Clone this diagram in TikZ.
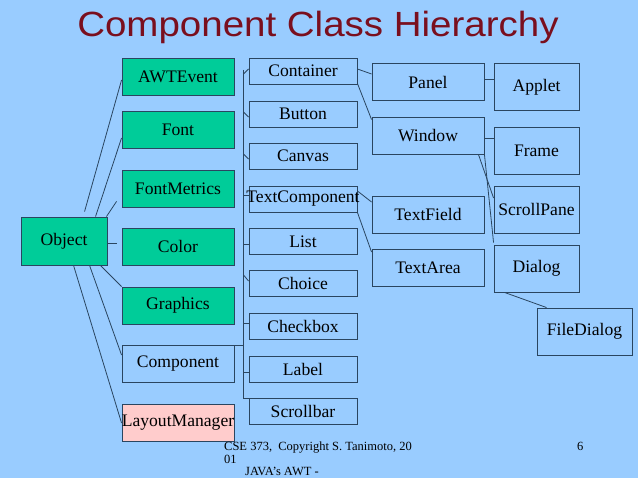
\documentclass[tikz,border=0pt]{standalone}
\usepackage{fontspec}
\setmainfont{Liberation Serif}
\newfontfamily\titlefont{Liberation Sans}
\usetikzlibrary{calc}
\definecolor{bg}{HTML}{99CCFF}
\definecolor{grn}{HTML}{00CC99}
\definecolor{pnk}{HTML}{FFCCCC}
\definecolor{edge}{HTML}{2A4560}
\definecolor{ttl}{HTML}{7A0F1E}
\newcommand\bt[1]{\makebox[0pt]{\raisebox{-1.5pt}{#1}}}
\begin{document}
\begin{tikzpicture}[x=1pt,y=-1pt,
  box/.style={draw=edge, line width=0.9pt, rectangle, inner sep=0pt, text=black,
    font=\fontsize{17.6}{20}\selectfont},
  gbox/.style={box, fill=grn},
  pbox/.style={box, fill=pnk},
  colA/.style={minimum width=112pt, minimum height=37pt},
  colB/.style={minimum width=108pt, minimum height=26pt},
  colC/.style={minimum width=112pt, minimum height=37pt},
  colD/.style={minimum width=85pt, minimum height=47pt},
  link/.style={draw=edge, line width=0.8pt},
  foot/.style={inner sep=0pt, anchor=base west, font=\fontsize{12.5}{14}\selectfont}]
\fill[bg] (0,0) rectangle (638,478);
\useasboundingbox (0,0) rectangle (638,478);

\node[anchor=base, inner sep=0pt, text=ttl, font=\titlefont\fontsize{35}{40}\selectfont] (title) at (318,37) {\scalebox{1.1}[1]{Component Class Hierarchy}};

% column 0
\node[gbox, minimum width=86pt, minimum height=48pt] (obj) at (64,241) {\bt{Object}};
% column A
\node[gbox, colA] (awt) at (178,76.5) {\bt{AWTEvent}};
\node[gbox, colA] (font) at (178,130) {\bt{Font}};
\node[gbox, colA] (fm) at (178,188.5) {\bt{FontMetrics}};
\node[gbox, colA] (color) at (178,246.5) {\bt{Color}};
\node[gbox, colA] (gr) at (178,305.5) {\bt{Graphics}};
\node[box, colA] (comp) at (178,364) {\bt{Component}};
\node[pbox, colA] (lm) at (178,422.5) {\bt{LayoutManager}};
% column B
\node[box, colB] (cont) at (303,71) {\bt{Container}};
\node[box, colB] (btn) at (303,114) {\bt{Button}};
\node[box, colB] (canv) at (303,156) {\bt{Canvas}};
\node[box, colB] (tc) at (303,199) {\bt{TextComponent}};
\node[box, colB] (list) at (303,241.5) {\bt{List}};
\node[box, colB] (choice) at (303,283.5) {\bt{Choice}};
\node[box, colB] (chk) at (303,326.5) {\bt{Checkbox}};
\node[box, colB] (lbl) at (303,369.5) {\bt{Label}};
\node[box, colB] (sb) at (303,411.5) {\bt{Scrollbar}};
% column C
\node[box, colC] (panel) at (428,82) {\bt{Panel}};
\node[box, colC] (win) at (428,135.5) {\bt{Window}};
\node[box, colC] (tf) at (428,214.5) {\bt{TextField}};
\node[box, colC] (ta) at (428,268) {\bt{TextArea}};
% column D
\node[box, colD] (applet) at (536.5,87) {\bt{Applet}};
\node[box, colD] (frame) at (536.5,151) {\bt{Frame}};
\node[box, colD] (sp) at (536.5,209.5) {\bt{ScrollPane}};
\node[box, colD] (dlg) at (536.5,268.5) {\bt{Dialog}};
\node[box, minimum width=95pt, minimum height=47pt] (fd) at (584.5,331.5) {\bt{FileDialog}};

% Object links
\draw[link] ($(obj.north west)+(64,-5)$) -- ($(awt.west)+(0,3.5)$);
\draw[link] ($(obj.north west)+(75,0)$) -- ($(font.west)+(0,8)$);
\draw[link] ($(obj.north east)+(-1,0)$) -- ($(fm.south west)+(-5,-6)$);
\draw[link] ($(obj.east)+(0,2)$) -- ($(color.west)+(-5,-3.5)$);
\draw[link] ($(obj.south east)+(-7,0)$) -- (gr.north west);
\draw[link] ($(obj.south west)+(69,0)$) -- ($(comp.west)+(0,-9)$);
\draw[link] ($(obj.south west)+(53,0)$) -- ($(lm.west)+(0,0.5)$);

% Component bus
\coordinate (bt) at ($(cont.west)+(-5,-1)$);
\coordinate (bb) at (sb.north west -| bt);
\draw[link] (comp.north east) -- (comp.north east -| bt);
\draw[link] (bt) -- (bb) -- (sb.north west);
\draw[link] ($(cont.west)+(-5,3)$) -- ($(cont.west)+(0,-2)$);
\draw[link] ($(btn.west)+(-5,-2)$) -- ($(btn.west)+(0,3)$);
\draw[link] ($(canv.west)+(-5,-2)$) -- ($(canv.west)+(0,3)$);
\draw[link] ($(tc.west)+(-5,-4)$) -- ($(tc.west)+(0,-4)$);
\draw[link] ($(list.west)+(-5,2.5)$) -- ($(list.west)+(0,2.5)$);
\draw[link] ($(choice.west)+(-5,-8.5)$) -- ($(choice.west)+(0,-2.5)$);
\draw[link] ($(chk.west)+(-5,-3.5)$) -- ($(chk.west)+(0,-3.5)$);
\draw[link] ($(lbl.west)+(-5,2.5)$) -- ($(lbl.west)+(0,2.5)$);

% Container / TextComponent links
\draw[link] ($(cont.east)+(0,-2)$) -- ($(panel.west)+(0,-8)$);
\draw[link] ($(cont.south east)+(0,-1)$) -- ($(win.north west)+(0,3)$);
\draw[link] ($(tc.east)+(0,-8)$) -- ($(tf.west)+(0,-12.5)$);
\draw[link] (tc.south east) -- ($(ta.north west)+(0,3)$);

% Panel / Window links
\draw[link] ($(panel.east)+(0,-3)$) -- ($(applet.west)+(0,-8)$);
\draw[link] ($(win.east)+(0,2.5)$) -- ($(frame.west)+(0,-13)$);
\draw[link] ($(win.south east)+(-6,0)$) -- ($(sp.west)+(0,-11.5)$);
\draw[link] (win.south east) -- ($(dlg.north west)+(0,-2)$);
\draw[link] ($(dlg.south west)+(11,0)$) -- ($(fd.north west)+(10,0)$);

% footer
\node[foot] (f1) at (224,451) {CSE 373,~ Copyright S. Tanimoto, 20};
\node[foot] (f2) at (224,464) {01};
\node[foot] (f3) at (245,475.5) {JAVA's AWT -};
\node[foot] (f4) at (577,451) {6};
\end{tikzpicture}
\end{document}
